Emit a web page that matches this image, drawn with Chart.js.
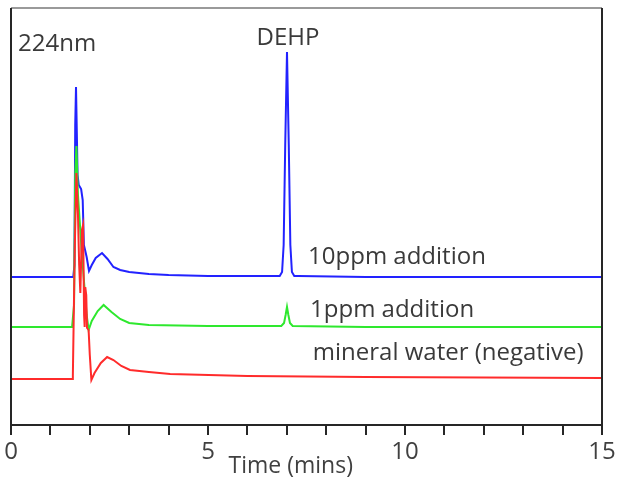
<!DOCTYPE html>
<html>
<head>
<meta charset="utf-8">
<script src="https://cdn.jsdelivr.net/npm/chart.js@4.4.1/dist/chart.umd.min.js"></script>
<style>
html,body{margin:0;padding:0;background:#fff;}
#wrap{width:624px;height:493px;position:relative;}
</style>
</head>
<body>
<div id="wrap"><canvas id="c" width="624" height="493"></canvas></div>
<script>
// Time axis (minutes)
const xTickLabels = [0, 5, 10, 15];
const xTitle = "Time (mins)";

// Mineral water (negative) - red
const redTimes  = [0, 1.55, 1.57, 1.62, 1.66, 1.70, 1.73, 1.76, 1.80, 1.83, 1.855, 1.87, 1.885, 1.91, 1.93, 1.97, 2.00, 2.04, 2.12, 2.28, 2.44, 2.60, 2.80, 3.02, 3.5, 4.04, 6, 9, 15];
const redValues = [46, 46, 50, 180, 252, 210, 160, 132, 195, 200, 110, 98, 138, 130, 97, 95, 70, 45, 52, 62, 68, 65, 59, 55, 53, 51, 49, 48, 47];

// 1ppm addition - green
const greenTimes  = [0, 1.55, 1.60, 1.63, 1.66, 1.70, 1.75, 1.80, 1.86, 1.92, 1.97, 2.05, 2.20, 2.35, 2.55, 2.77, 3.0, 3.5, 5, 6.86, 6.93, 6.97, 7.005, 7.04, 7.08, 7.15, 9, 15];
const greenValues = [98, 98, 120, 250, 279, 230, 200, 170, 140, 110, 95, 104, 114, 120, 113, 106, 102, 100, 99, 99, 102, 110, 118, 110, 102, 99, 98, 98];

// 10ppm addition - blue
const blueTimes  = [0, 1.58, 1.61, 1.63, 1.65, 1.69, 1.72, 1.78, 1.82, 1.85, 1.88, 1.92, 1.98, 2.05, 2.15, 2.31, 2.45, 2.60, 2.77, 3.0, 3.5, 4.0, 5.0, 6.82, 6.88, 6.92, 6.96, 7.005, 7.05, 7.09, 7.13, 7.19, 7.3, 9, 12, 15];
const blueValues = [148, 148, 160, 300, 338, 250, 240, 236, 225, 180, 175, 168, 154, 160, 167, 172, 166, 158, 155, 153, 151, 150, 149, 149, 153, 180, 280, 373, 280, 180, 153, 149, 149, 148, 148, 148];

// Annotation texts
const noteTexts = ["224nm", "DEHP", "10ppm addition", "1ppm addition", "mineral water (negative)"];
const noteX     = [0.18, 7.03, 7.54, 7.59, 7.66];
const noteY     = [381, 387, 168, 115, 72];
const noteAlign = ["left", "center", "left", "left", "left"];

const toPts = (ts, vs) => ts.map((t, i) => ({x: t, y: vs[i]}));

const frame = {
  id: 'frame',
  afterDatasetsDraw(chart) {
    const {ctx, chartArea: a, scales} = chart;
    ctx.save();
    ctx.lineWidth = 2;
    ctx.strokeStyle = '#9a9a9a';
    ctx.beginPath(); ctx.moveTo(a.left, a.top); ctx.lineTo(a.right, a.top); ctx.stroke();
    ctx.strokeStyle = '#262626';
    ctx.beginPath();
    ctx.moveTo(a.left, a.top); ctx.lineTo(a.left, a.bottom);
    ctx.moveTo(a.right, a.top); ctx.lineTo(a.right, a.bottom);
    ctx.stroke();
    ctx.fillStyle = '#3a3a3a';
    ctx.textBaseline = 'middle';
    ctx.font = '24px "Open Sans"';
    noteTexts.forEach((t, i) => {
      ctx.textAlign = noteAlign[i];
      ctx.fillText(t, scales.x.getPixelForValue(noteX[i]), scales.y.getPixelForValue(noteY[i]));
    });
    // axis title
    ctx.fillStyle = '#404040';
    ctx.font = '23px "Open Sans"';
    ctx.textAlign = 'center';
    ctx.fillText(xTitle, scales.x.getPixelForValue(7.1), a.bottom + 41);
    ctx.restore();
  }
};

new Chart(document.getElementById('c'), {
  type: 'line',
  data: {
    datasets: [
      {data: toPts(redTimes, redValues), borderColor: '#ff2b2b', borderWidth: 2},
      {data: toPts(greenTimes, greenValues), borderColor: '#2ee82e', borderWidth: 2},
      {data: toPts(blueTimes, blueValues), borderColor: '#2222ff', borderWidth: 2}
    ]
  },
  options: {
    responsive: false,
    animation: false,
    events: [],
    elements: {point: {radius: 0}, line: {tension: 0}},
    layout: {padding: {left: 11, top: 8, right: 22, bottom: 0}},
    plugins: {legend: {display: false}, tooltip: {enabled: false}},
    scales: {
      x: {
        type: 'linear', min: 0, max: 15,
        afterFit: s => { s.height = 68; },
        border: {display: true, color: '#262626', width: 2},
        grid: {drawOnChartArea: false, drawTicks: true, tickLength: 10, color: '#262626', lineWidth: 2},
        ticks: {
          stepSize: 1, autoSkip: false, maxRotation: 0, padding: 3,
          color: '#404040', font: {family: 'Open Sans', size: 24},
          callback: v => xTickLabels.includes(v) ? String(v) : ''
        },
        title: {display: false}
      },
      y: {display: false, min: 0, max: 417}
    }
  },
  plugins: [frame]
});
</script>
</body>
</html>
